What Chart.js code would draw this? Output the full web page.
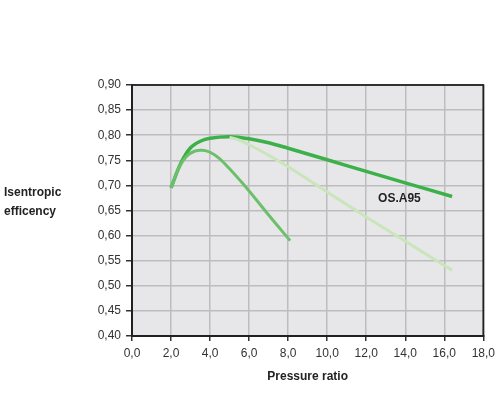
<!DOCTYPE html>
<html>
<head>
<meta charset="utf-8">
<script src="https://cdn.jsdelivr.net/npm/chart.js@4/dist/chart.umd.min.js"></script>
<style>
  html, body { margin: 0; padding: 0; background: #fff; }
  #wrap { width: 500px; height: 420px; position: relative; }
</style>
</head>
<body>
<div id="wrap"><canvas id="effChart"></canvas></div>
<script>
// values
const mainRatio = [2.0, 2.5, 3.0, 3.5, 4.0, 5.0, 6.0, 7.0, 8.0, 10.0, 12.0, 14.0, 16.4];
const mainEff   = [0.695, 0.744, 0.775, 0.788, 0.794, 0.797, 0.793, 0.785, 0.774, 0.751, 0.728, 0.705, 0.678];

const highRatio = [5.0, 5.5, 6.2, 7.0, 8.0, 10.0, 12.0, 14.0, 16.4];
const highEff   = [0.796, 0.790, 0.777, 0.760, 0.737, 0.687, 0.637, 0.589, 0.531];

const lowRatio = [2.0, 2.4, 2.8, 3.2, 3.6, 4.0, 4.5, 5.0, 6.0, 7.0, 8.1];
const lowEff   = [0.695, 0.735, 0.758, 0.768, 0.770, 0.766, 0.753, 0.733, 0.689, 0.641, 0.590];

const xTicks = [0, 2, 4, 6, 8, 10, 12, 14, 16, 18];
const seriesLabel = 'OS.A95';

function toPoints(xs, ys) {
    let pts = [];
    for (let i = 0; i < xs.length; i++) {
        pts.push({ x: xs[i], y: ys[i] });
    }
    return pts;
}

const fmt = (v, d) => v.toFixed(d).replace('.', ',');

const plotDeco = {
    id: 'plotDeco',
    beforeDraw(chart) {
        let ctx = chart.ctx;
        let a = chart.chartArea;
        ctx.save();
        ctx.fillStyle = '#e7e7e9';
        ctx.fillRect(a.left, a.top, a.right - a.left, a.bottom - a.top);
        ctx.restore();
    },
    afterDatasetsDraw(chart) {
        let ctx = chart.ctx;
        let a = chart.chartArea;
        let xs = chart.scales.x;
        let ys = chart.scales.y;
        ctx.save();
        ctx.strokeStyle = '#222';
        ctx.lineWidth = 1.8;
        ctx.strokeRect(a.left, a.top, a.right - a.left, a.bottom - a.top);

        ctx.fillStyle = '#222';
        ctx.font = 'bold 12px "Liberation Sans", Arial, sans-serif';
        ctx.textBaseline = 'middle';
        ctx.textAlign = 'left';
        ctx.fillText('Isentropic', 4, 193);
        ctx.fillText('efficency', 4, 212);

        ctx.textAlign = 'center';
        ctx.fillText('Pressure ratio', (a.left + a.right) / 2, 377);

        ctx.fillText(seriesLabel, xs.getPixelForValue(13.7), ys.getPixelForValue(0.673));
        ctx.restore();
    }
};

let ctx = document.getElementById('effChart').getContext('2d');
let effChart = new Chart(ctx, {
    type: 'line',
    data: {
        datasets: [{
            label: 'high',
            data: toPoints(highRatio, highEff),
            borderColor: '#c9e6bb',
            borderWidth: 3,
            pointRadius: 0,
            tension: 0.35,
            fill: false
        }, {
            label: 'low',
            data: toPoints(lowRatio, lowEff),
            borderColor: '#6cc06c',
            borderWidth: 3,
            pointRadius: 0,
            tension: 0.35,
            fill: false
        }, {
            label: seriesLabel,
            data: toPoints(mainRatio, mainEff),
            borderColor: '#3cb049',
            borderWidth: 3.5,
            pointRadius: 0,
            tension: 0.35,
            fill: false
        }]
    },
    options: {
        responsive: true,
        maintainAspectRatio: false,
        animation: false,
        layout: {
            padding: { top: 85, right: 15, bottom: 0, left: 0 }
        },
        plugins: {
            legend: { display: false },
            tooltip: { enabled: false }
        },
        scales: {
            x: {
                type: 'linear',
                min: 0,
                max: 18,
                afterBuildTicks(scale) {
                    scale.ticks = xTicks.map(v => ({ value: v }));
                },
                afterFit(scale) {
                    scale.height = 84;
                },
                ticks: {
                    color: '#333',
                    padding: 5,
                    font: { family: '"Liberation Sans", Arial, sans-serif', size: 12 },
                    callback: v => fmt(v, 1),
                    maxRotation: 0
                },
                grid: {
                    color: '#bdbdbf',
                    lineWidth: 1.5,
                    tickLength: 5,
                    tickColor: '#333'
                },
                border: { color: '#222', width: 2 }
            },
            y: {
                min: 0.40,
                max: 0.90,
                afterFit(scale) {
                    scale.width = 132;
                },
                ticks: {
                    stepSize: 0.05,
                    color: '#333',
                    padding: 5,
                    font: { family: '"Liberation Sans", Arial, sans-serif', size: 12 },
                    callback: v => fmt(v, 2)
                },
                grid: {
                    color: '#bdbdbf',
                    lineWidth: 1.5,
                    tickLength: 6,
                    tickColor: '#333'
                },
                border: { color: '#222', width: 2 }
            }
        }
    },
    plugins: [plotDeco]
});
</script>
</body>
</html>
